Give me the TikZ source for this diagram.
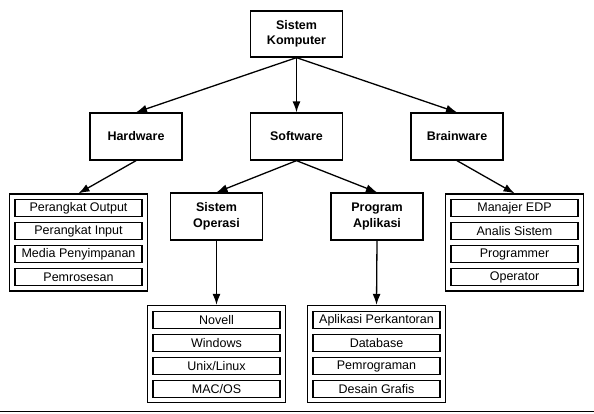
\documentclass[tikz,border=0pt]{standalone}
\usepackage{fontspec}
\setmainfont{Liberation Sans}
\usetikzlibrary{arrows.meta}

\begin{document}
\begin{tikzpicture}[x=1pt, y=-1pt,
    font=\fontsize{12.5}{15.5}\selectfont,
    kotak/.style={draw, line width=1.3pt, minimum width=92pt, minimum height=47pt, align=center, font=\fontsize{12.5}{15.5}\selectfont\bfseries},
    daftar/.style={draw, line width=1.3pt, minimum width=138pt, minimum height=97pt},
    isi/.style={draw, line width=1.3pt, minimum width=127pt, minimum height=17.5pt, inner sep=0pt},
    panah/.style={-{Latex[length=11pt, width=8pt]}, line width=1.3pt}]
        \useasboundingbox (0,0) rectangle (594,413);

        % Sistem komputer dan tiga bagiannya
        \node[kotak, minimum height=46pt] (komputer) at (296.5,34) {Sistem\\Komputer};
        \node[kotak] (hardware) at (136,136.5) {Hardware};
        \node[kotak] (software) at (296.5,136.5) {Software};
        \node[kotak] (brainware) at (457,136.5) {Brainware};

        % Bagian dari software
        \node[kotak] (os) at (216.5,216.5) {Sistem\\Operasi};
        \node[kotak] (aplikasi) at (377,216.5) {Program\\Aplikasi};

        % Daftar hardware
        \node[daftar] (hwlist) at (78.5,242.5) {};
        \node[isi] (hw1) at (78.5,208) {Perangkat Output};
        \node[isi] (hw2) at (78.5,231) {Perangkat Input};
        \node[isi] (hw3) at (78.5,254) {Media Penyimpanan};
        \node[isi] (hw4) at (78.5,277) {Pemrosesan};

        % Daftar sistem operasi
        \node[daftar] (oslist) at (216.5,354) {};
        \node[isi] (os1) at (216.5,320) {Novell};
        \node[isi] (os2) at (216.5,343) {Windows};
        \node[isi] (os3) at (216.5,366) {Unix/Linux};
        \node[isi] (os4) at (216.5,389) {MAC/OS};

        % Daftar program aplikasi
        \node[daftar] (applist) at (376.5,354) {};
        \node[isi] (app1) at (376.5,320) {Aplikasi Perkantoran};
        \node[isi] (app2) at (376.5,343) {Database};
        \node[isi] (app3) at (376.5,366) {Pemrograman};
        \node[isi] (app4) at (376.5,389) {Desain Grafis};

        % Daftar brainware
        \node[daftar] (bwlist) at (514.5,242.5) {};
        \node[isi] (bw1) at (514.5,208) {Manajer EDP};
        \node[isi] (bw2) at (514.5,231) {Analis Sistem};
        \node[isi] (bw3) at (514.5,254) {Programmer};
        \node[isi] (bw4) at (514.5,277) {Operator};

        % Panah
        \draw[panah] (komputer.south) -- (hardware.north);
        \draw[panah] (komputer.south) -- (software.north);
        \draw[panah] (komputer.south) -- (brainware.north);
        \draw[panah] (hardware.south) -- (hwlist.north);
        \draw[panah] (software.south) -- (os.north);
        \draw[panah] (software.south) -- (aplikasi.north);
        \draw[panah] (os.south) -- (oslist.north);
        \draw[panah] (aplikasi.south) -- (applist.north);
        \draw[panah] (brainware.south) -- (bwlist.north);

        % Garis bawah
        \draw[line width=1.3pt] (0,411.5) -- (594,411.5);
      \end{tikzpicture}
\end{document}
